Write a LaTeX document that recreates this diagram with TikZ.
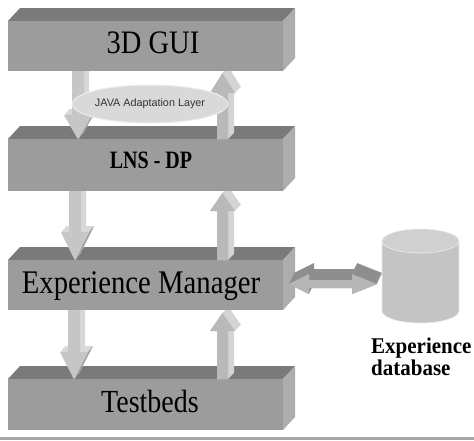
\documentclass[tikz,border=0pt]{standalone}
\usepackage{fontspec}
\setmainfont{Liberation Serif}
\newfontfamily\arialf{Liberation Sans}
\usetikzlibrary{shapes.geometric}
\definecolor{boxfront}{HTML}{9C9C9C}
\definecolor{boxtop}{HTML}{7A7A7A}
\definecolor{boxside}{HTML}{ADADAD}
\definecolor{arrfrontD}{HTML}{C6C6C6}
\definecolor{arrsideD}{HTML}{D8D8D8}
\definecolor{arrdarkD}{HTML}{A2A2A2}
\definecolor{arrfrontU}{HTML}{B9B9B9}
\definecolor{arrsideU}{HTML}{D4D4D4}
\definecolor{harrtop}{HTML}{8E8E8E}
\definecolor{harrfront}{HTML}{B6B6B6}
\definecolor{cylbody}{HTML}{C4C4C4}
\definecolor{cyltop}{HTML}{D0D0D0}
\definecolor{javafill}{HTML}{D9D9D9}
\definecolor{javaedge}{HTML}{EDEDED}
\definecolor{barcol}{HTML}{A6A6A6}
\newcommand\tdbox[2]{%
  \fill[boxtop] (8,#1) -- (20,{#1-13}) -- (295,{#1-13}) -- (283,#1) -- cycle;
  \fill[boxside] (283,#1) -- (295,{#1-13}) -- (295,{#2-13}) -- (283,#2) -- cycle;
  \fill[boxfront] (8,#1) rectangle (283,#2);}
\newcommand\dnarr[4]{%
  \foreach \t in {0,0.5,...,6}{%
    \fill[arrsideD,shift={({\t*5/6},{-\t})}] ({69+#1},#2) -- ({81+#1},#2) -- ({81+#1},#3) -- ({89+#1},#3) -- ({75+#1},#4) -- ({61+#1},#3) -- ({69+#1},#3) -- cycle;}
  \fill[arrdarkD] ({89+#1},#3) -- ({75+#1},#4) -- ({80+#1},{#4-6}) -- ({94+#1},{#3-6}) -- cycle;
  \fill[arrfrontD] ({69+#1},#2) -- ({81+#1},#2) -- ({81+#1},#3) -- ({89+#1},#3) -- ({75+#1},#4) -- ({61+#1},#3) -- ({69+#1},#3) -- cycle;}
\newcommand\uparr[3]{%
  \foreach \t in {0,0.5,...,6}{%
    \fill[arrsideU,shift={(\t,{-\t})}] (217,#1) -- (228,#1) -- (228,#2) -- (235,#2) -- (222.5,#3) -- (210,#2) -- (217,#2) -- cycle;}
  \fill[arrfrontU] (217,#1) -- (228,#1) -- (228,#2) -- (235,#2) -- (222.5,#3) -- (210,#2) -- (217,#2) -- cycle;}
\begin{document}
\begin{tikzpicture}[x=1pt,y=-1pt,
  lbl/.style={inner sep=0pt,anchor=base,text=black},
  dblbl/.style={inner sep=0pt,anchor=base west,text=black,font=\bfseries\fontsize{21}{22}\selectfont}]
\useasboundingbox (0,0) rectangle (474,440);
\fill[white] (0,0) rectangle (474,440);
\fill[barcol] (0,437) rectangle (474,440);
% bottom box and arrows to it
\tdbox{379}{430}
\dnarr{-1}{310}{352}{379}
\uparr{379}{331}{313}
% experience manager
\tdbox{260}{310}
\dnarr{0}{191}{232}{260}
\uparr{260}{211}{193}
% LNS-DP
\tdbox{139}{191}
\dnarr{3}{71}{115}{139}
\uparr{139}{93}{73}
% 3D GUI
\tdbox{21}{71}
% JAVA layer
\node[ellipse,fill=javafill,draw=javaedge,line width=1pt,minimum width=154pt,minimum height=38pt,inner sep=0pt,
  font=\arialf\fontsize{10.8}{12}\selectfont,text=black!80] (java) at (150,104) {JAVA Adaptation Layer};
% labels
\node[lbl] (gui) at (153,53) {\scalebox{1}[1.15]{\fontsize{28.5}{30}\selectfont 3D GUI}};
\node[lbl] (lns) at (151,168) {\scalebox{1}[1.25]{\bfseries\fontsize{20}{22}\selectfont LNS - DP}};
\node[lbl] (em) at (141,293) {\scalebox{1}[1.15]{\fontsize{28.7}{30}\selectfont Experience Manager}};
\node[lbl] (tb) at (150,412) {\scalebox{1}[1.15]{\fontsize{28}{30}\selectfont Testbeds}};
% cylinder
\fill[cylbody,draw=javaedge,line width=0.6pt] (382,241) -- (382,311) arc (180:360:38.5pt and 12pt) -- (459,241) -- cycle;
\fill[cyltop,draw=javaedge,line width=0.6pt] (420.5,241) ellipse [x radius=38.5pt, y radius=12pt];
\coordinate (cyl) at (382,284);
% double arrow
\foreach \t in {0,0.5,...,11}{%
  \fill[harrtop,shift={({\t*5/11},{-\t})}] (289,284) -- (309,274) -- (309,280) -- (352,280) -- (352,274) -- (377,284) -- (352,294) -- (352,288) -- (309,288) -- (309,294) -- cycle;}
\fill[harrfront] (289,284) -- (309,274) -- (309,280) -- (352,280) -- (352,274) -- (377,284) -- (352,294) -- (352,288) -- (309,288) -- (309,294) -- cycle;
% database label
\node[dblbl] (db1) at (371,353) {\scalebox{1}[1.07]{Experience}};
\node[dblbl] (db2) at (371,375) {\scalebox{1}[1.07]{database}};
\end{tikzpicture}
\end{document}
